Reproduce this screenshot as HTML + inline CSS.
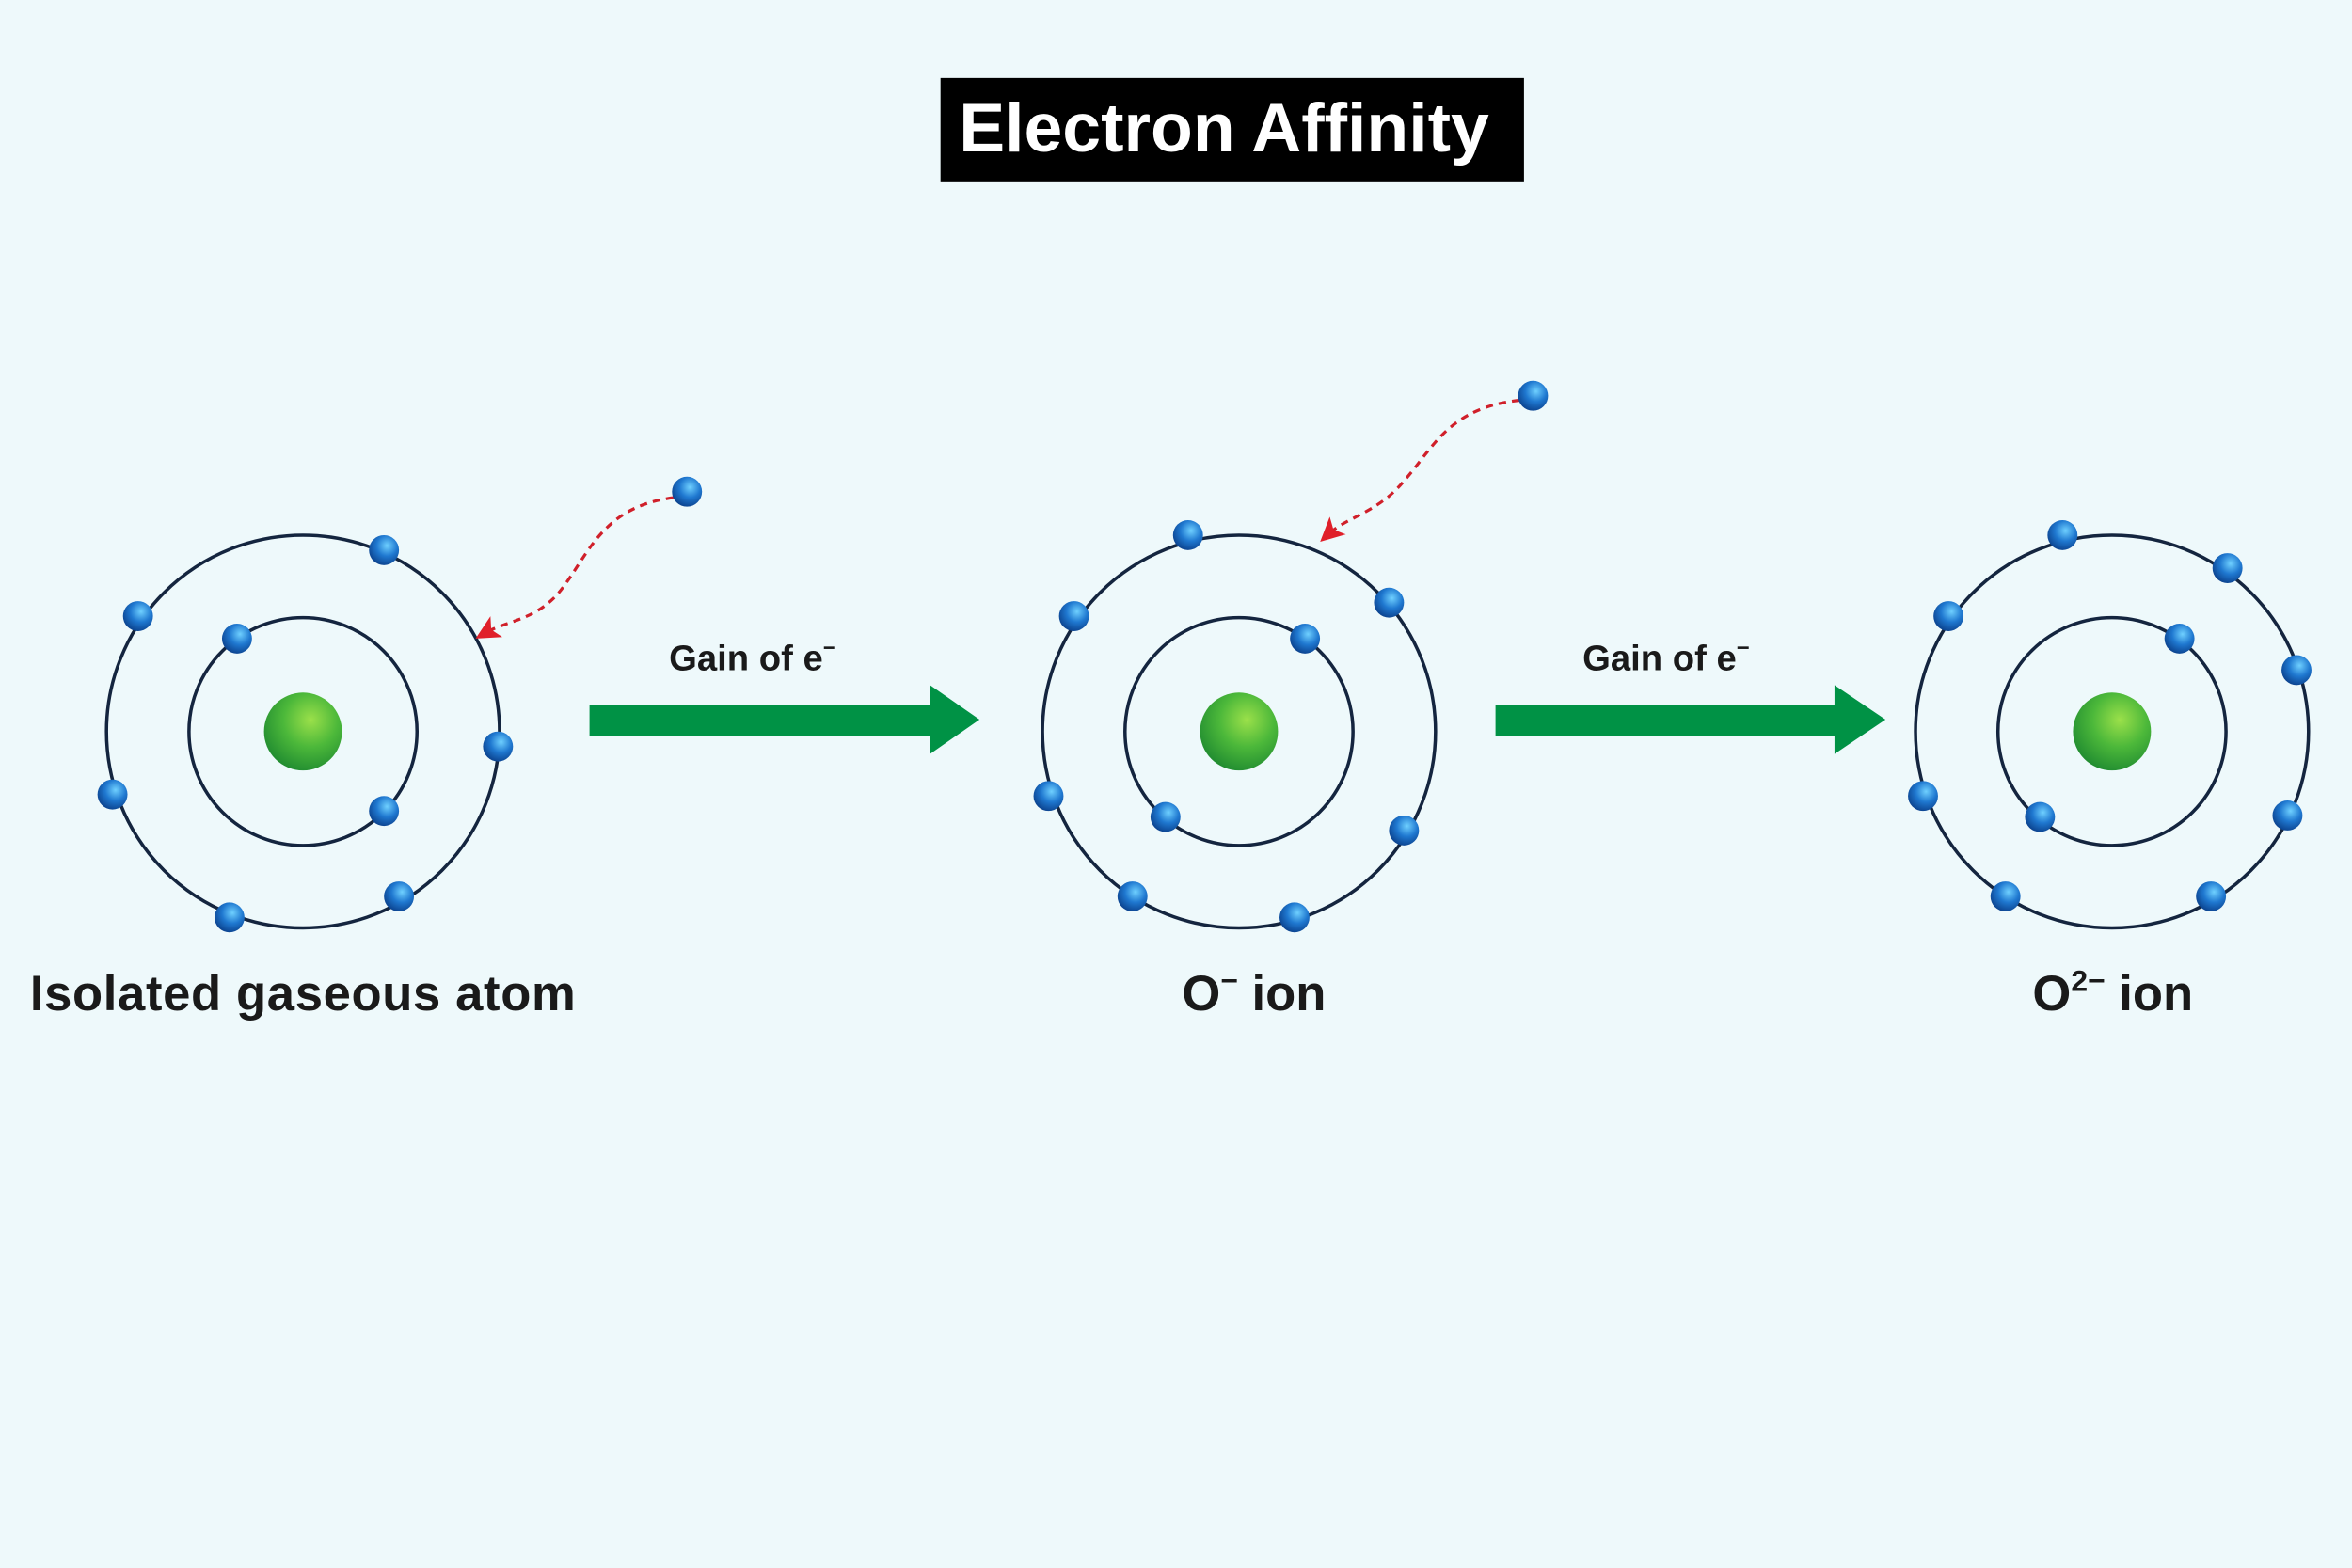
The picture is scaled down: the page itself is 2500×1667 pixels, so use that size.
<!DOCTYPE html>
<html><head><meta charset="utf-8"><style>
html,body{margin:0;padding:0;background:#eef9fb;}
svg{display:block;}
text{font-family:"Liberation Sans",sans-serif;}
</style></head><body>
<svg width="2500" height="1667" viewBox="0 0 1568 1046" preserveAspectRatio="none" xmlns="http://www.w3.org/2000/svg">
<defs>
<radialGradient id="nuc" cx="0.6" cy="0.35" r="0.7">
<stop offset="0" stop-color="#9be04a"/><stop offset="0.5" stop-color="#4cb83a"/><stop offset="1" stop-color="#1f8a30"/>
</radialGradient>
<radialGradient id="el" cx="0.6" cy="0.35" r="0.7">
<stop offset="0" stop-color="#6fd0ff"/><stop offset="0.5" stop-color="#1f78d0"/><stop offset="1" stop-color="#0a3f8a"/>
</radialGradient>
<marker id="ah" markerWidth="16" markerHeight="16" refX="8" refY="8" orient="auto" markerUnits="userSpaceOnUse">
<path d="M0,0 L16,8 L0,16 L4,8 Z" fill="#e0202a"/>
</marker>
</defs>
<rect width="1568" height="1046" fill="#eef9fb"/>
<rect x="627" y="52" width="389" height="69" fill="#000"/>
<text x="816" y="101" font-size="46" font-weight="bold" fill="#fff" text-anchor="middle">Electron Affinity</text>

<g fill="none" stroke="#14253f" stroke-width="2.2">
<circle cx="202" cy="488" r="131"/><circle cx="202" cy="488" r="76"/>
<circle cx="826" cy="488" r="131"/><circle cx="826" cy="488" r="76"/>
<circle cx="1408" cy="488" r="131"/><circle cx="1408" cy="488" r="76"/>
</g>
<g fill="url(#nuc)">
<circle cx="202" cy="488" r="26"/><circle cx="826" cy="488" r="26"/><circle cx="1408" cy="488" r="26"/>
</g>

<g fill="none" stroke="#d0202a" stroke-width="2" stroke-dasharray="5,4">
<path d="M449,332 C400,338 392,372 372,396 C356,414 338,414 324,422" marker-end="url(#ah)"/>
<path d="M1013,267 C965,272 955,300 935,322 C918,342 898,345 886,356" marker-end="url(#ah)"/>
</g>

<g fill="url(#el)">
<circle cx="458" cy="328" r="10"/><circle cx="1022" cy="264" r="10"/>
<circle cx="256" cy="367" r="10"/><circle cx="92" cy="411" r="10"/><circle cx="332" cy="498" r="10"/><circle cx="75" cy="530" r="10"/><circle cx="153" cy="612" r="10"/><circle cx="266" cy="598" r="10"/><circle cx="158" cy="426" r="10"/><circle cx="256" cy="541" r="10"/>
<circle cx="792" cy="357" r="10"/><circle cx="716" cy="411" r="10"/><circle cx="926" cy="402" r="10"/><circle cx="699" cy="531" r="10"/><circle cx="936" cy="554" r="10"/><circle cx="755" cy="598" r="10"/><circle cx="863" cy="612" r="10"/><circle cx="870" cy="426" r="10"/><circle cx="777" cy="545" r="10"/>
<circle cx="1375" cy="357" r="10"/><circle cx="1299" cy="411" r="10"/><circle cx="1485" cy="379" r="10"/><circle cx="1531" cy="447" r="10"/><circle cx="1282" cy="531" r="10"/><circle cx="1525" cy="544" r="10"/><circle cx="1337" cy="598" r="10"/><circle cx="1474" cy="598" r="10"/><circle cx="1453" cy="426" r="10"/><circle cx="1360" cy="545" r="10"/>
</g>

<g fill="#009245">
<path d="M393,470 H620 V457 L653,480 L620,503 V491 H393 Z"/>
<path d="M997,470 H1223 V457 L1257,480 L1223,503 V491 H997 Z"/>
</g>
<g font-size="24" fill="#1a1a1a" font-weight="600">
<text x="446" y="447">Gain of e<tspan font-size="15" dy="-10">−</tspan></text>
<text x="1055" y="447">Gain of e<tspan font-size="15" dy="-10">−</tspan></text>
</g>
<g font-size="33" fill="#1a1a1a" font-weight="600">
<text x="20" y="674" letter-spacing="0.4">Isolated gaseous atom</text>
<text x="788" y="674">O<tspan font-size="20" dy="-13">−</tspan><tspan dy="13"> ion</tspan></text>
<text x="1355" y="674">O<tspan font-size="20" dy="-13">2−</tspan><tspan dy="13"> ion</tspan></text>
</g>
</svg>
</body></html>
